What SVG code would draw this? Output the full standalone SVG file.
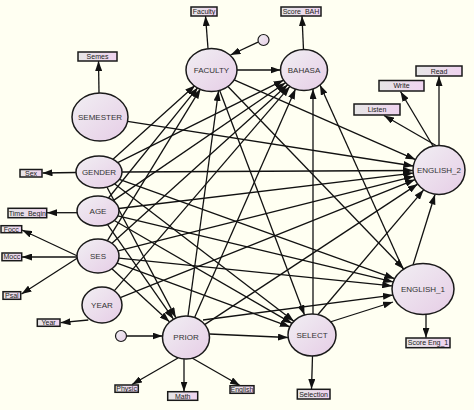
<svg xmlns="http://www.w3.org/2000/svg" width="474" height="410" viewBox="0 0 474 410">
<defs>
<linearGradient id="eg" x1="0" y1="0" x2="1" y2="1">
<stop offset="0" stop-color="#f1eff3"/>
<stop offset="1" stop-color="#e6cde6"/>
</linearGradient>
<linearGradient id="rg" x1="0" y1="0" x2="1" y2="0">
<stop offset="0" stop-color="#e6e6e6"/>
<stop offset="1" stop-color="#efd3ef"/>
</linearGradient>
<marker id="ah" markerUnits="userSpaceOnUse" markerWidth="10" markerHeight="7" refX="10" refY="3.5" orient="auto">
<path d="M0,0 L10,3.5 L0,7 z" fill="#111"/>
</marker>
<style>
.lat ellipse{fill:url(#eg);stroke:#1a1a1a;stroke-width:1.5}
.lat text{font-family:"Liberation Sans",Arial,sans-serif;font-size:8px;fill:#333;text-anchor:middle;dominant-baseline:central}
.obs rect{fill:url(#rg);stroke:#1a1a1a;stroke-width:1.5}
.obs text{font-family:"Liberation Sans",Arial,sans-serif;font-size:7px;fill:#222;text-anchor:middle;dominant-baseline:central}
.err circle{fill:url(#eg);stroke:#1a1a1a;stroke-width:1.2}
#edges line{stroke:#111;stroke-width:1.3;marker-end:url(#ah)}
</style>
</defs>
<rect width="474" height="410" fill="#fffff2"/>
<g id="edges">
<line x1="237" y1="70" x2="280.5" y2="70"/>
<line x1="127.5" y1="121.3" x2="413.4" y2="166"/>
<line x1="113" y1="159.3" x2="195" y2="85.4"/>
<line x1="117.7" y1="162.7" x2="283.6" y2="80.2"/>
<line x1="122" y1="172" x2="413" y2="170.5"/>
<line x1="119.4" y1="179.4" x2="394.6" y2="278.7"/>
<line x1="114.5" y1="183.8" x2="293.9" y2="321.2"/>
<line x1="106.9" y1="187" x2="175.8" y2="317.6"/>
<line x1="108.5" y1="198" x2="197.9" y2="87.4"/>
<line x1="113.2" y1="200.6" x2="285.5" y2="82.7"/>
<line x1="118.7" y1="208.5" x2="413.2" y2="173.1"/>
<line x1="117.9" y1="215.8" x2="393.2" y2="281.9"/>
<line x1="114.3" y1="220.5" x2="292" y2="323.4"/>
<line x1="107.4" y1="224.4" x2="173.3" y2="318.9"/>
<line x1="107.3" y1="240.8" x2="200.6" y2="88.7"/>
<line x1="112" y1="243.3" x2="287.7" y2="84.7"/>
<line x1="118.1" y1="250.9" x2="413.9" y2="176.3"/>
<line x1="118.8" y1="258.1" x2="392.2" y2="285.9"/>
<line x1="117.1" y1="263.1" x2="289.9" y2="326.8"/>
<line x1="111.9" y1="268.8" x2="169.4" y2="321.8"/>
<line x1="114.2" y1="290.8" x2="289.9" y2="86.4"/>
<line x1="120.3" y1="297.7" x2="415.1" y2="179.6"/>
<line x1="234.1" y1="79.8" x2="415.5" y2="159.6"/>
<line x1="227.7" y1="86.3" x2="403.8" y2="269"/>
<line x1="219.5" y1="90" x2="304.5" y2="315.1"/>
<line x1="188" y1="316" x2="218.5" y2="91"/>
<line x1="194.8" y1="317.1" x2="295.5" y2="89.1"/>
<line x1="209.5" y1="334" x2="288" y2="337.5"/>
<line x1="203" y1="320" x2="392.9" y2="295.1"/>
<line x1="205" y1="324.4" x2="417.7" y2="184.1"/>
<line x1="313" y1="314" x2="313" y2="89"/>
<line x1="318" y1="314.5" x2="423.7" y2="189.8"/>
<line x1="330" y1="322" x2="393" y2="302"/>
<line x1="413" y1="265" x2="435" y2="194.5"/>
<line x1="403" y1="269" x2="320" y2="85"/>
<line x1="258" y1="42.2" x2="230.5" y2="55"/>
<line x1="126.5" y1="336" x2="162.5" y2="336"/>
<line x1="208" y1="48.5" x2="205.5" y2="16"/>
<line x1="99" y1="93" x2="98.5" y2="61"/>
<line x1="303.5" y1="50" x2="302" y2="16"/>
<line x1="439" y1="145.5" x2="439" y2="76"/>
<line x1="433" y1="146" x2="400.5" y2="91.5"/>
<line x1="436" y1="145.5" x2="384" y2="115.5"/>
<line x1="76" y1="172.5" x2="42.5" y2="173"/>
<line x1="77" y1="212.7" x2="47" y2="212.7"/>
<line x1="77.5" y1="256" x2="22" y2="230"/>
<line x1="77" y1="257" x2="22" y2="257"/>
<line x1="77.5" y1="258" x2="21.5" y2="294"/>
<line x1="88.3" y1="320" x2="60.5" y2="322.7"/>
<line x1="178" y1="358" x2="132" y2="384.5"/>
<line x1="184" y1="359" x2="184" y2="391.5"/>
<line x1="192" y1="358" x2="240" y2="385.5"/>
<line x1="312.5" y1="356" x2="311.5" y2="389"/>
<line x1="426" y1="314.5" x2="426" y2="337.7"/>
</g>
<g id="FACULTY" class="lat"><ellipse cx="211.5" cy="70" rx="25.5" ry="21.5"/><text x="211.5" y="70">FACULTY</text></g>
<g id="BAHASA" class="lat"><ellipse cx="304" cy="70" rx="23.5" ry="20.5"/><text x="304" y="70">BAHASA</text></g>
<g id="SEMESTER" class="lat"><ellipse cx="100" cy="117" rx="28" ry="24"/><text x="100" y="117">SEMESTER</text></g>
<g id="GENDER" class="lat"><ellipse cx="99" cy="172" rx="23" ry="16"/><text x="99" y="172">GENDER</text></g>
<g id="AGE" class="lat"><ellipse cx="98" cy="211" rx="21" ry="15"/><text x="98" y="211">AGE</text></g>
<g id="SES" class="lat"><ellipse cx="98" cy="256" rx="21" ry="17"/><text x="98" y="256">SES</text></g>
<g id="YEAR" class="lat"><ellipse cx="102" cy="305" rx="20" ry="18"/><text x="102" y="305">YEAR</text></g>
<g id="PRIOR" class="lat"><ellipse cx="186" cy="337.5" rx="23.5" ry="21.5"/><text x="186" y="337.5">PRIOR</text></g>
<g id="SELECT" class="lat"><ellipse cx="312" cy="335" rx="24" ry="21"/><text x="312" y="335">SELECT</text></g>
<g id="ENGLISH_1" class="lat"><ellipse cx="423" cy="289" rx="31" ry="25.5"/><text x="423" y="289">ENGLISH_1</text></g>
<g id="ENGLISH_2" class="lat"><ellipse cx="439" cy="170" rx="26" ry="24.5"/><text x="439" y="170">ENGLISH_2</text></g>
<g id="e_faculty" class="err"><circle cx="263.5" cy="40" r="5.5"/></g>
<g id="e_prior" class="err"><circle cx="121" cy="336" r="5.5"/></g>
<g id="Faculty" class="obs"><rect x="191" y="7" width="26" height="9"/><text x="204" y="11.5">Faculty</text></g>
<g id="Semes" class="obs"><rect x="78" y="52" width="39" height="9"/><text x="97.5" y="56.5">Semes</text></g>
<g id="Score_BAH" class="obs"><rect x="281" y="7" width="40" height="9"/><text x="301" y="11.5">Score_BAH</text></g>
<g id="Read" class="obs"><rect x="416" y="66" width="46" height="10"/><text x="439" y="71">Read</text></g>
<g id="Write" class="obs"><rect x="379" y="80.5" width="45" height="10.5"/><text x="401.5" y="85.7">Write</text></g>
<g id="Listen" class="obs"><rect x="354" y="104" width="46" height="11"/><text x="377" y="109.5">Listen</text></g>
<g id="Sex" class="obs"><rect x="20" y="169.5" width="22" height="7.5"/><text x="31" y="173.2">Sex</text></g>
<g id="Time_Begin" class="obs"><rect x="8" y="208.3" width="38.7" height="9.4"/><text x="27.3" y="213">Time_Begin</text></g>
<g id="Focc" class="obs"><rect x="1" y="225.7" width="20.7" height="7"/><text x="11.3" y="229.2">Focc</text></g>
<g id="Mocc" class="obs"><rect x="2" y="253" width="19.7" height="7.7"/><text x="11.8" y="256.8">Mocc</text></g>
<g id="Psal" class="obs"><rect x="3" y="291.7" width="17.7" height="7.6"/><text x="11.8" y="295.5">Psal</text></g>
<g id="Year" class="obs"><rect x="37.3" y="319" width="22.7" height="7.3"/><text x="48.6" y="322.6">Year</text></g>
<g id="Physic" class="obs"><rect x="115" y="385" width="23.3" height="7.3"/><text x="126.6" y="388.6">Physic</text></g>
<g id="Math" class="obs"><rect x="167.7" y="391.7" width="30" height="8.6"/><text x="182.7" y="396">Math</text></g>
<g id="English" class="obs"><rect x="230" y="385.7" width="24" height="7.6"/><text x="242" y="389.5">English</text></g>
<g id="Selection" class="obs"><rect x="297.3" y="389.3" width="32.7" height="9.7"/><text x="313.6" y="394.2">Selection</text></g>
<g id="Score_Eng_1" class="obs"><rect x="406" y="338" width="44" height="9.7"/><text x="428" y="342.9">Score Eng_1</text></g>
</svg>
